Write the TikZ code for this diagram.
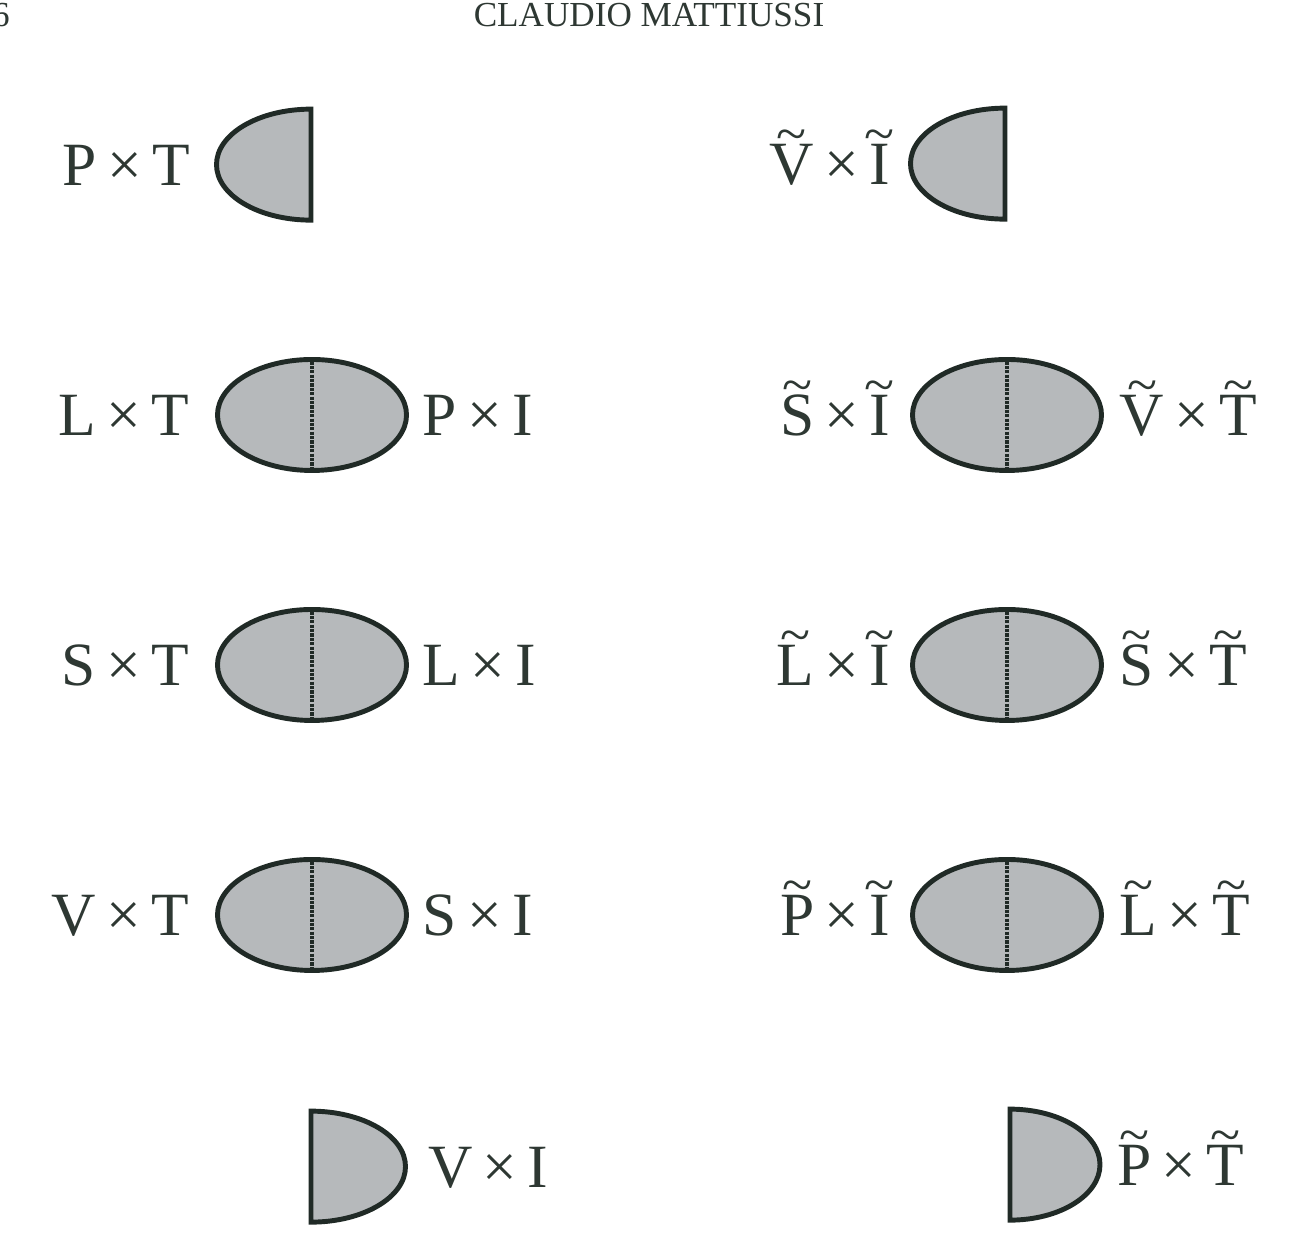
\documentclass[tikz,border=0pt]{standalone}
\usepackage{fontspec}
\setmainfont{Liberation Serif}
\usepackage{xcolor}
\usepackage{graphicx}
\usetikzlibrary{positioning,shapes.geometric}
\definecolor{cellgray}{RGB}{182,185,187}
\definecolor{inkdark}{RGB}{32,42,38}
\definecolor{textdark}{RGB}{46,56,51}
% letter with a wide tilde over it
\newcommand{\wavy}[1]{\leavevmode\setbox0\hbox{#1}\makebox[0pt][l]{\makebox[\wd0][c]{\raisebox{18.5pt}{\scalebox{0.9}[0.85]{\textasciitilde}}}}#1}

\begin{document}
\begin{tikzpicture}[
    scale=1,
    cell/.style={
        draw=inkdark,
        fill=cellgray,
        line width=2.8pt,
        ellipse,
        inner sep=0pt,
        minimum width=3.78cm,
        minimum height=2.22cm
    },
    ghost/.style={
        ellipse,
        inner sep=0pt,
        minimum width=3.78cm,
        minimum height=2.22cm
    },
    half/.style={
        draw=inkdark,
        fill=cellgray,
        line width=2.8pt,
        line join=miter
    },
    divide/.style={
        draw=inkdark,
        line width=2.2pt,
        dash pattern=on 1.8pt off 0.7pt
    },
    lbl/.style={
        text=textdark,
        font=\fontsize{35}{42}\selectfont,
        inner sep=0pt,
        text height=23pt,
        text depth=0pt
    }
]
\useasboundingbox (0,0) rectangle (25.94,24.86);

% Header
\node[font=\fontsize{20}{24}\selectfont, text=textdark, inner sep=0pt, anchor=east] (page) at (0.2,24.55) {6};
\node[font=\fontsize{20}{24}\selectfont, text=textdark, inner sep=0pt] (head) at (12.98,24.55) {CLAUDIO MATTIUSSI};

% Cells, left column
\node[ghost] (A1) at (6.22,21.56) {};
\node[cell] (A2) at (6.24,16.56) {};
\node[cell] (A3) at (6.24,11.56) {};
\node[cell] (A4) at (6.24,6.56) {};
\node[ghost] (A5) at (6.22,1.52) {};

% Cells, right column
\node[ghost] (B1) at (20.10,21.58) {};
\node[cell] (B2) at (20.14,16.56) {};
\node[cell] (B3) at (20.14,11.56) {};
\node[cell] (B4) at (20.14,6.56) {};
\node[ghost] (B5) at (20.20,1.56) {};

% Half cells
\draw[half] (A1.north) arc[start angle=90, end angle=270, x radius=1.89cm, y radius=1.11cm] -- cycle;
\draw[half] (B1.north) arc[start angle=90, end angle=270, x radius=1.89cm, y radius=1.11cm] -- cycle;
\draw[half] (A5.north) arc[start angle=90, end angle=-90, x radius=1.89cm, y radius=1.11cm] -- cycle;
\draw[half] (B5.north) arc[start angle=90, end angle=-90, x radius=1.80cm, y radius=1.11cm] -- cycle;

% Dividers
\draw[divide] (A2.north) -- (A2.south);
\draw[divide] (A3.north) -- (A3.south);
\draw[divide] (A4.north) -- (A4.south);
\draw[divide] (B2.north) -- (B2.south);
\draw[divide] (B3.north) -- (B3.south);
\draw[divide] (B4.north) -- (B4.south);

% Labels, left column
\node[lbl, left=2.42cm of A1.center] (PT) {P\,×\,T};
\node[lbl, left=0.52cm of A2] (LT) {L\,×\,T};
\node[lbl, right=0.27cm of A2] (PI) {P\,×\,I};
\node[lbl, left=0.52cm of A3] (ST) {S\,×\,T};
\node[lbl, right=0.27cm of A3] (LI) {L\,×\,I};
\node[lbl, left=0.52cm of A4] (VT) {V\,×\,T};
\node[lbl, right=0.27cm of A4] (SI) {S\,×\,I};
\node[lbl, right=2.34cm of A5.center] (VI) {V\,×\,I};

% Labels, right column
\node[lbl, left=2.3cm of B1.center] (tVI) {\wavy{V}\,×\,\wavy{I}};
\node[lbl, left=0.39cm of B2] (tSI) {\wavy{S}\,×\,\wavy{I}};
\node[lbl, right=0.31cm of B2] (tVT) {\wavy{V}\,×\,\wavy{T}};
\node[lbl, left=0.39cm of B3] (tLI) {\wavy{L}\,×\,\wavy{I}};
\node[lbl, right=0.31cm of B3] (tST) {\wavy{S}\,×\,\wavy{T}};
\node[lbl, left=0.39cm of B4] (tPI) {\wavy{P}\,×\,\wavy{I}};
\node[lbl, right=0.31cm of B4] (tLT) {\wavy{L}\,×\,\wavy{T}};
\node[lbl, right=2.14cm of B5.center] (tPT) {\wavy{P}\,×\,\wavy{T}};

\end{tikzpicture}
\end{document}
